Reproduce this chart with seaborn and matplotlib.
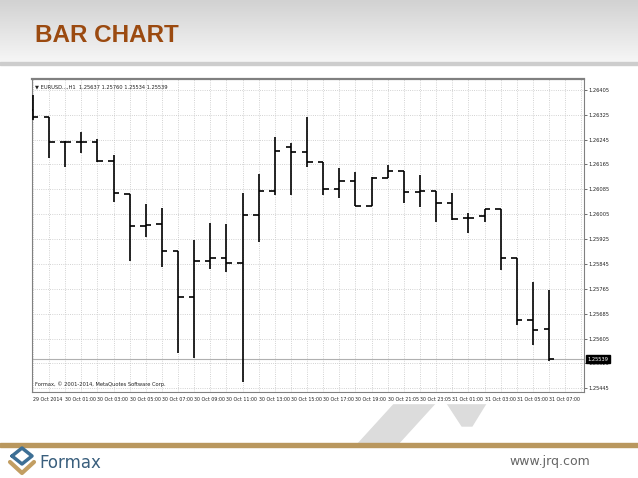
import numpy as np
import pandas as pd
import seaborn as sns
import matplotlib.pyplot as plt
from matplotlib.patches import Polygon, Rectangle
from matplotlib.colors import LinearSegmentedColormap
from matplotlib.transforms import blended_transform_factory

# hourly EURUSD bars
opens = [1.26341, 1.26318, 1.26238, 1.26238, 1.26238, 1.26177, 1.26070, 1.25967, 1.25974,
         1.25887, 1.25739, 1.25855, 1.25864, 1.25848, 1.26003, 1.26080, 1.26222, 1.26206,
         1.26173, 1.26086, 1.26112, 1.26032, 1.26122, 1.26144, 1.26077, 1.26080, 1.26041,
         1.25993, 1.25999, 1.26022, 1.25864, 1.25665, 1.25637]
highs = [1.26389, 1.26318, 1.26241, 1.26270, 1.26247, 1.26196, 1.26070, 1.26038, 1.26025,
         1.25887, 1.25922, 1.25977, 1.25974, 1.26074, 1.26135, 1.26254, 1.26234, 1.26318,
         1.26173, 1.26154, 1.26141, 1.26125, 1.26164, 1.26144, 1.26131, 1.26080, 1.26074,
         1.26009, 1.26022, 1.26022, 1.25864, 1.25787, 1.25760]
lows = [1.26308, 1.26186, 1.26157, 1.26202, 1.26173, 1.26045, 1.25855, 1.25932, 1.25835,
        1.25559, 1.25543, 1.25829, 1.25819, 1.25465, 1.25916, 1.26067, 1.26067, 1.26157,
        1.26067, 1.26058, 1.26032, 1.26032, 1.26122, 1.26041, 1.26029, 1.25980, 1.25987,
        1.25945, 1.25980, 1.25826, 1.25649, 1.25584, 1.25534]
closes = [1.26318, 1.26238, 1.26238, 1.26238, 1.26177, 1.26074, 1.25967, 1.25971, 1.25887,
          1.25739, 1.25855, 1.25864, 1.25848, 1.26003, 1.26080, 1.26209, 1.26206, 1.26173,
          1.26086, 1.26112, 1.26032, 1.26122, 1.26144, 1.26077, 1.26080, 1.26041, 1.25990,
          1.25993, 1.26022, 1.25864, 1.25665, 1.25633, 1.25539]

time_labels = ["29 Oct 2014", "30 Oct 01:00", "30 Oct 03:00", "30 Oct 05:00", "30 Oct 07:00",
               "30 Oct 09:00", "30 Oct 11:00", "30 Oct 13:00", "30 Oct 15:00", "30 Oct 17:00",
               "30 Oct 19:00", "30 Oct 21:05", "30 Oct 23:05", "31 Oct 01:00", "31 Oct 03:00",
               "31 Oct 05:00", "31 Oct 07:00"]
price_ticks = [1.26405, 1.26325, 1.26245, 1.26165, 1.26085, 1.26005, 1.25925,
               1.25845, 1.25765, 1.25685, 1.25605, 1.25525, 1.25445]

df = pd.DataFrame({"open": opens, "high": highs, "low": lows, "close": closes})
df["bar"] = np.arange(len(df))

sns.set_theme(style="white")
plt.rcParams["font.family"] = ["DejaVu Sans"]
small = ["Liberation Sans Narrow", "DejaVu Sans"]

fig = plt.figure(figsize=(6.38, 4.78), dpi=100)

# slide background, in pixel coords
bg = fig.add_axes([0, 0, 1, 1], zorder=0)
grad = np.linspace(0, 1, 100).reshape(-1, 1)
cmap = LinearSegmentedColormap.from_list("hdr", ["#d2d2d2", "#f6f6f6"])
bg.imshow(grad, extent=[0, 638, 62, 0], cmap=cmap, aspect="auto")
bg.add_patch(Rectangle((0, 62), 638, 3, color="#cdcdcd"))
bg.add_patch(Polygon([(357, 445), (397, 445), (438, 400), (398, 400)], color="#dcdcdc"))
bg.add_patch(Polygon([(445, 400), (488, 400), (472, 426), (462, 426)], color="#dcdcdc"))
bg.add_patch(Rectangle((27, 70), 585, 333, color="white"))
bg.add_patch(Rectangle((0, 443), 638, 4, color="#b9975e"))
bg.plot([12, 22, 32, 22, 12], [456, 448, 456, 464, 456], color="#3d6f95", lw=2.5)
bg.plot([10, 22, 34], [462, 473, 462], color="#c29e62", lw=3)
bg.text(35, 35, "BAR CHART", fontsize=17.5, fontweight="bold", color="#9b4a10",
        va="center", family="Liberation Sans")
bg.text(39, 463, "Formax", fontsize=12, color="#3a5f7d", va="center")
bg.text(590, 461, "www.jrq.com", fontsize=9, color="#666666", va="center", ha="right")
bg.set_xlim(0, 638)
bg.set_ylim(478, 0)
bg.axis("off")

# chart
ax = fig.add_axes([32 / 638, 1 - 392 / 478, 552 / 638, 313 / 478], zorder=2)
ax.set_facecolor("white")
ax.axhline(df["close"].iloc[-1], color="#b0b0b0", lw=0.8, zorder=1)
ax.vlines(df["bar"], df["low"], df["high"], color="black", lw=1.2, zorder=3)
ax.hlines(df["open"], df["bar"] - 0.34, df["bar"], color="black", lw=1.2, zorder=3)
ax.hlines(df["close"], df["bar"], df["bar"] + 0.34, color="black", lw=1.2, zorder=3)

ax.set_xlim(-0.06, 34.17)
ax.set_ylim(1.25433, 1.26440)
ax.set_xticks(range(0, len(df), 2))
ax.set_xticklabels(time_labels, fontsize=3.4, ha="left", family=small)
ax.set_xticks(range(0, 35), minor=True)
ax.yaxis.tick_right()
ax.set_yticks(price_ticks)
ax.set_yticklabels([f"{p:.5f}" for p in price_ticks], fontsize=3.7, family=small)
ax.tick_params(axis="both", which="major", length=2, width=0.6, color="#555555",
               pad=1.5, labelcolor="#222222")
ax.tick_params(axis="x", which="minor", length=0)
ax.grid(True, which="both", color="#c4c4c4", ls=":", lw=0.6)
for side, sp in ax.spines.items():
    sp.set_color("#808080")
    sp.set_linewidth(0.8)
ax.spines["top"].set_linewidth(1.6)

ax.text(0.006, 0.975, "\u25bc EURUSD...,H1  1.25637 1.25760 1.25534 1.25539",
        transform=ax.transAxes, fontsize=3.7, va="center", color="#222222", family=small)
ax.text(0.006, 0.025, "Formax, \u00a9 2001-2014, MetaQuotes Software Corp.",
        transform=ax.transAxes, fontsize=3.7, va="center", color="#222222", family=small)
tr = blended_transform_factory(ax.transAxes, ax.transData)
ax.text(1.006, df["close"].iloc[-1], f"{df['close'].iloc[-1]:.5f}", transform=tr,
        fontsize=3.7, color="white", va="center", ha="left", clip_on=False, family=small,
        bbox=dict(boxstyle="square,pad=0.25", fc="black", ec="black"))

fig.savefig("out.png", dpi=100)
